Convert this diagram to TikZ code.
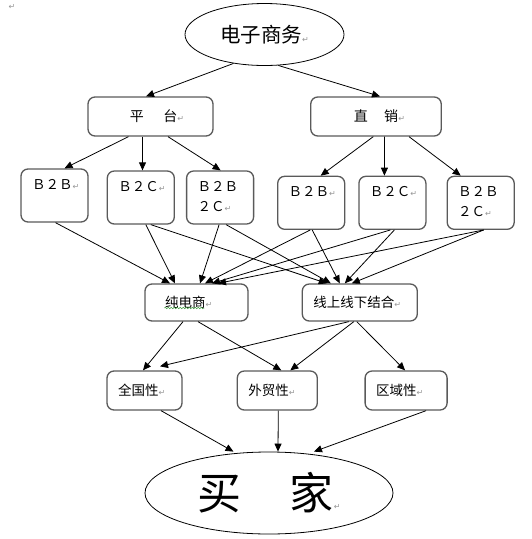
\documentclass[tikz,border=0pt]{standalone}
\usepackage{fontspec}
\setmainfont{Noto Sans CJK SC}
\newfontfamily\arrowfont{DejaVu Sans}
\usepackage{tikz}
\usetikzlibrary{positioning}
\usetikzlibrary {arrows.meta}
\usetikzlibrary{shapes.geometric}
\usetikzlibrary{decorations.pathmorphing}
\definecolor{boxgray}{RGB}{90,90,90}
\definecolor{markgray}{RGB}{150,150,150}
\definecolor{spellgreen}{RGB}{70,160,70}
\newcommand{\retmark}{{\arrowfont\fontsize{8}{8}\selectfont\textcolor{markgray}{↵}}}
\tikzset{rootell/.style={ellipse,draw=black,line width=0.8pt,fill=white,
inner sep=0pt}}
\tikzset{headbox/.style={rectangle,rounded corners=7pt,draw=boxgray,line width=1.3pt,
fill=white,inner xsep=11pt,inner ysep=0pt,align=left,minimum height=39pt,
font=\fontsize{14}{16}\selectfont}}
\tikzset{leafbox/.style={rectangle,rounded corners=7pt,draw=boxgray,line width=1.3pt,
fill=white,inner xsep=11pt,inner ysep=0pt,align=left,text width=45pt,
minimum height=53pt,font=\fontsize{13.5}{19.5}\selectfont}}
\tikzset{catbox/.style={rectangle,rounded corners=7pt,draw=boxgray,line width=1.3pt,
fill=white,inner xsep=11pt,inner ysep=0pt,align=left,minimum height=37pt,
font=\fontsize{13.5}{16}\selectfont}}
\tikzset{link/.style={line width=0.8pt,-{Triangle[length=8pt,width=7pt]}}}
\tikzset{spell/.style={draw=spellgreen,line width=0.5pt,decorate,
decoration={snake,segment length=3pt,amplitude=0.7pt}}}

\begin{document}
\begin{tikzpicture}[x=1pt,y=-1pt]
    \useasboundingbox (0,0) rectangle (531,539);

        \node[inner sep=0pt] (topmark) at (12,7) {\retmark};
        \node[rootell, minimum width=159pt, minimum height=62pt,
              font=\fontsize{20.5}{24}\selectfont] (ec) at (264.5,34.5) {电子商务\retmark};

        \node[headbox, text width=103pt] (pt) at (150.5,116.5) {\hspace*{31pt}平\hspace{19.5pt}台\retmark};
        \node[headbox, text width=108.5pt] (zx) at (376,116.5) {\hspace*{32pt}直\hspace{16.5pt}销\retmark};

        \node[leafbox] (b2bP) at (54.5,195.5) {\strut Ｂ２Ｂ\retmark\\\strut};
        \node[leafbox] (b2cP) at (140.8,197.5) {\strut Ｂ２Ｃ\retmark\\\strut};
        \node[leafbox] (b2b2cP) [right=11pt of b2cP] {\strut Ｂ２Ｂ\\\strut ２Ｃ\retmark};

        \node[leafbox] (b2bD) at (311.2,202.8) {\strut Ｂ２Ｂ\retmark\\\strut};
        \node[leafbox] (b2cD) [right=12.9pt of b2bD] {\strut Ｂ２Ｃ\retmark\\\strut};
        \node[leafbox] (b2b2cD) [right=20pt of b2cD] {\strut Ｂ２Ｂ\\\strut ２Ｃ\retmark};

        \node[catbox, text width=81pt] (cds) at (196.5,302.5) {\hspace*{9pt}纯电商\retmark};
        \node[catbox, text width=93pt] (xsx) [right=53pt of cds] {线上线下结合\retmark};
        \draw[spell] ([xshift=20pt,yshift=-5.5pt]cds.west) -- ([xshift=60pt,yshift=-5.5pt]cds.west);

        \node[catbox, text width=53pt, minimum height=39pt] (qg) at (144.5,390.5) {全国性\retmark};
        \node[catbox, text width=58pt, minimum height=39pt] (wm) [right=54pt of qg] {外贸性\retmark};
        \node[catbox, text width=60pt, minimum height=39pt] (qy) [right=46.5pt of wm] {区域性\retmark};

        \node[rootell, minimum width=248pt, minimum height=82pt,
              font=\fontsize{44}{48}\selectfont] (buyer) at (269,493) {买\hspace{1.1em}家\retmark};

        % top level
        \draw[link] (ec.223) -- ([xshift=-4.5pt]pt.north);
        \draw[link] (ec.294) -- ([xshift=4pt]zx.north);

        % platform and direct sales
        \draw[link] ([xshift=-22pt]pt.south) -- ([xshift=10pt]b2bP.north);
        \draw[link] ([xshift=-8pt]pt.south) -- ([xshift=1.7pt]b2cP.north);
        \draw[link] ([xshift=17.5pt]pt.south) -- ([xshift=0.5pt]b2b2cP.north);
        \draw[link] ([xshift=-2.7pt]zx.south) -- ([xshift=9.5pt]b2bD.north);
        \draw[link] ([xshift=8.5pt]zx.south) -- ([xshift=-8pt]b2cD.north);
        \draw[link] ([xshift=33pt]zx.south) -- ([xshift=-20pt]b2b2cD.north);

        % models to channels
        \draw[link] ([xshift=1pt]b2bP.south) -- ([xshift=-26.5pt]cds.north);
        \draw[link] ([xshift=5pt]b2cP.south) -- ([xshift=-21.5pt]cds.north);
        \draw[link] ([xshift=10pt]b2cP.south) -- ([xshift=-33pt]xsx.north);
        \draw[link] ([xshift=-1pt]b2b2cP.south) -- ([xshift=3.5pt]cds.north);
        \draw[link] ([xshift=6pt]b2b2cP.south) -- ([xshift=-29pt]xsx.north);
        \draw[link] ([xshift=-1pt]b2bD.south) -- ([xshift=8.5pt]cds.north);
        \draw[link] ([xshift=1pt]b2bD.south) -- ([xshift=-20pt]xsx.north);
        \draw[link] ([xshift=-2pt]b2cD.south) -- ([xshift=15.5pt]cds.north);
        \draw[link] ([xshift=2pt]b2cD.south) -- ([xshift=-15pt]xsx.north);
        \draw[link] ([xshift=3pt]b2b2cD.south) -- ([xshift=21.5pt]cds.north);
        \draw[link] ([xshift=3pt]b2b2cD.south) -- ([xshift=-8pt]xsx.north);

        % channels to markets
        \draw[link] ([xshift=-13.5pt]cds.south) -- ([xshift=-1.5pt]qg.north);
        \draw[link] ([xshift=1.5pt]cds.south) -- ([xshift=4pt]wm.north);
        \draw[link] ([xshift=-11pt]xsx.south) -- ([xshift=15.5pt,yshift=4pt]qg.north);
        \draw[link] ([xshift=-6pt]xsx.south) -- ([xshift=13pt]wm.north);
        \draw[link] ([xshift=-3pt]xsx.south) -- ([xshift=-1pt]qy.north);

        % markets to buyer
        \draw[link] ([xshift=16.5pt]qg.south) -- ([xshift=-35.5pt]buyer.north);
        \draw[link] ([xshift=1pt]wm.south) -- ([xshift=9pt]buyer.north);
        \draw[link] ([xshift=20pt]qy.south) -- ([xshift=45pt]buyer.north);

    \end{tikzpicture}
\end{document}
